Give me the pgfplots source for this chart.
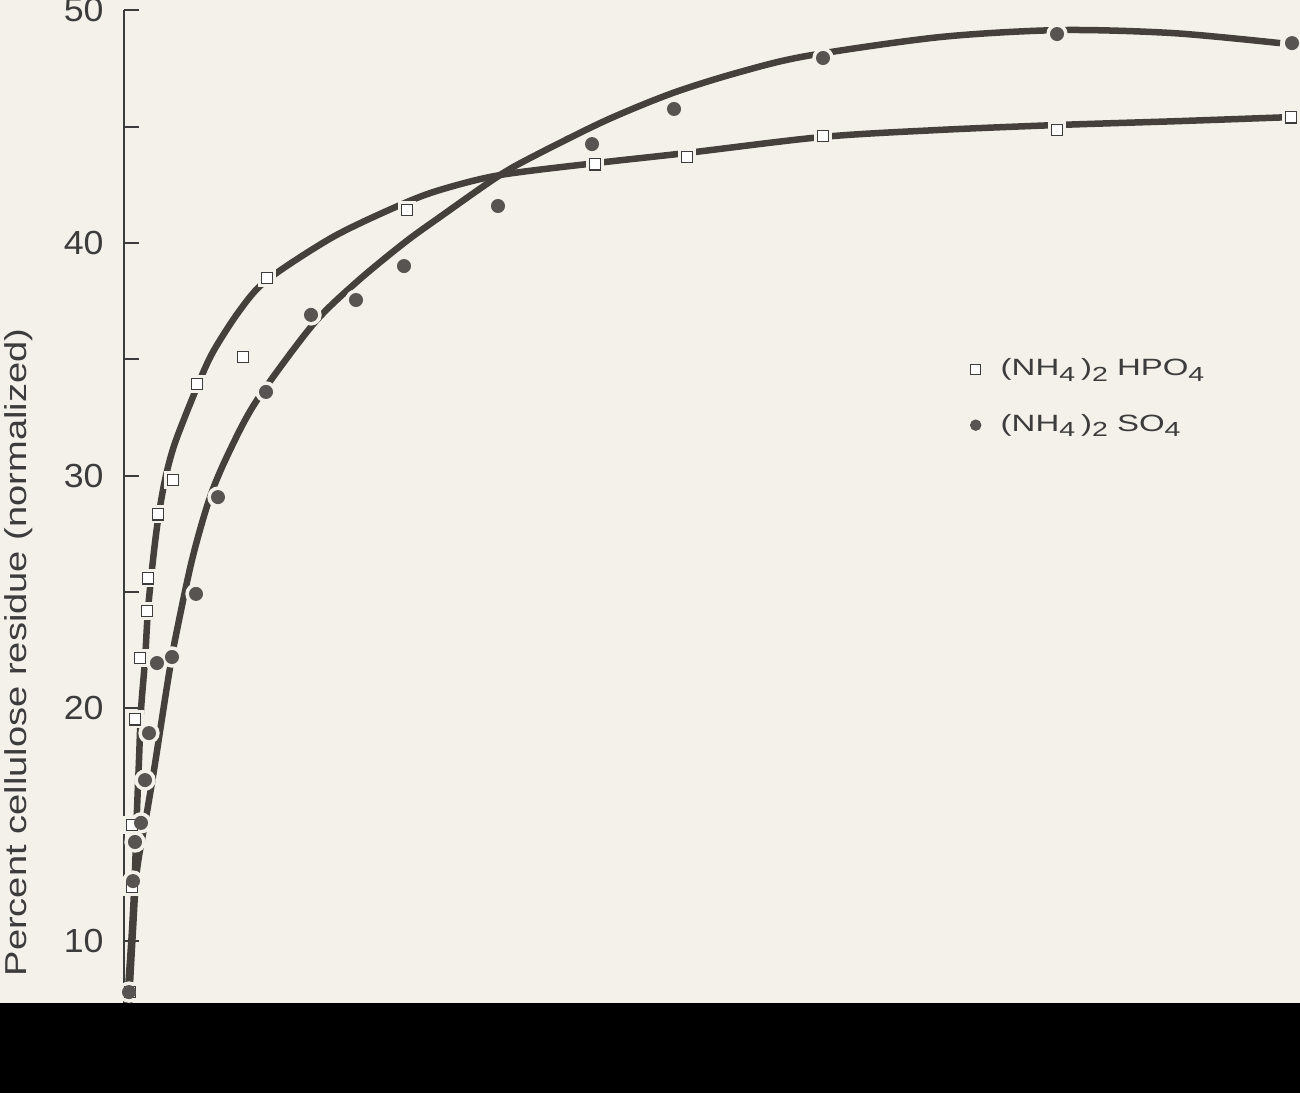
\documentclass[border=0pt]{standalone}
\usepackage{fontspec}
\setmainfont{Liberation Sans}
\newfontfamily\tickfont[FakeStretch=1.07]{Liberation Sans}
\newfontfamily\labfont[FakeStretch=1.26]{Liberation Sans}
\newfontfamily\legfont[FakeStretch=1.4]{Liberation Sans}
\usepackage{pgfplots}
\pgfplotsset{compat=1.18}
\definecolor{bg}{RGB}{243,241,234}
\definecolor{curve}{RGB}{70,64,60}
\definecolor{dotc}{RGB}{88,84,82}
\definecolor{txt}{RGB}{60,60,60}
\newcommand\sub[1]{\raisebox{-0.55mm}{\fontsize{5.8}{6}\selectfont #1}}
\begin{document}
\begin{tikzpicture}
\fill[bg] (0mm,0mm) rectangle (130mm,109.3mm);
\fill[black] (0mm,0mm) rectangle (130mm,9.0mm);
\begin{axis}[
  at={(12.4mm,9.0mm)}, anchor=south west,
  scale only axis, width=117.6mm, height=99.27mm,
  xmin=0, xmax=1176, ymin=7.34, ymax=50,
  hide x axis,
  axis y line*=left,
  y axis line style={line width=0.25mm, color=txt},
  ytick={10,20,30,40,50},
  minor ytick={15,25,35,45},
  tick align=inside,
  major tick length=1.5mm, minor tick length=1.5mm,
  every tick/.style={line width=0.2mm, color=txt},
  yticklabel style={font=\tickfont\fontsize{9.5}{11}\selectfont, text=txt, xshift=-0.8mm},
  /pgf/number format/assume math mode=true,
  ylabel={Percent cellulose residue (normalized)},
  ylabel style={font=\labfont\fontsize{8.6}{10}\selectfont, text=txt, inner sep=0pt, at={(axis description cs:-0.0825,0.0262)}, anchor=base west},
  clip=false,
  legend cell align=left,
  legend style={draw=none, fill=none, at={(axis cs:846,35.06)}, anchor=north west,
    inner sep=0pt, row sep=3.3mm, column sep=2mm,
    font=\legfont\fontsize{6.7}{8}\selectfont, text=txt,
    nodes={inner sep=0pt}, cells={anchor=west}},
]
% fitted curves
\addplot[curve, line width=0.65mm, smooth, forget plot] table {
x y
3 7.34
8 10.48
11 13.06
13 15.63
15 17.78
17 19.93
21 22.08
24 24.23
29 26.38
34 28.10
41 29.82
51 31.41
73 33.81
89 35.32
116 37.12
143 38.41
209 40.26
276 41.63
316 42.28
376 42.92
473 43.44
563 43.87
699 44.56
816 44.86
933 45.07
1056 45.24
1166 45.41
};
\addplot[curve, line width=0.65mm, smooth, forget plot] table {
x y
5 7.34
9 10.48
13 13.06
23 15.55
30 17.35
37 19.29
44 21.22
51 22.94
68 26.38
86 29.08
106 31.10
133 33.25
189 36.50
232 38.30
280 40.00
316 41.12
376 42.92
416 43.87
483 45.29
549 46.45
616 47.35
683 48.04
816 48.85
936 49.15
1049 49.02
1156 48.59
};
% halos
\addplot[only marks, mark=square*, mark size=0.85mm, color=bg, forget plot] table {
x y
6 7.81
8 12.33
8 14.99
11 19.54
16 22.17
23 24.19
24 25.60
34 28.35
49 29.82
73 33.94
119 35.10
143 38.50
283 41.42
471 43.39
563 43.70
699 44.60
933 44.86
1167 45.41
};
\addplot[only marks, mark=*, mark size=1.0mm, color=bg, forget plot] table {
x y
5 7.81
9 12.58
11 14.26
17 15.08
21 16.92
25 18.94
33 21.95
48 22.21
72 24.92
94 29.08
142 33.60
187 36.91
232 37.55
280 39.01
374 41.59
468 44.25
550 45.76
699 47.95
933 48.98
1168 48.59
};
% data
\addplot[only marks, mark=square*, mark size=0.58mm, mark options={fill=white, draw=txt, line width=0.12mm},
  legend image code/.code={\draw[mark=square*, mark size=0.5mm, fill=white, draw=txt, line width=0.12mm] plot coordinates {(0mm,0mm)};}] table {
x y
6 7.81
8 12.33
8 14.99
11 19.54
16 22.17
23 24.19
24 25.60
34 28.35
49 29.82
73 33.94
119 35.10
143 38.50
283 41.42
471 43.39
563 43.70
699 44.60
933 44.86
1167 45.41
};
\addlegendentry{(NH\sub{4}\hspace{0.6mm})\sub{2}\hspace{0.9mm}HPO\sub{4}}
\addplot[only marks, mark=*, mark size=0.63mm, mark options={fill=dotc, draw=dotc},
  legend image code/.code={\draw[mark=*, mark size=0.5mm, fill=dotc, draw=dotc] plot coordinates {(0mm,0mm)};}] table {
x y
5 7.81
9 12.58
11 14.26
17 15.08
21 16.92
25 18.94
33 21.95
48 22.21
72 24.92
94 29.08
142 33.60
187 36.91
232 37.55
280 39.01
374 41.59
468 44.25
550 45.76
699 47.95
933 48.98
1168 48.59
};
\addlegendentry{(NH\sub{4}\hspace{0.6mm})\sub{2}\hspace{0.9mm}SO\sub{4}}
\end{axis}
\pgfresetboundingbox
\path[use as bounding box] (0mm,0mm) rectangle (130mm,109.3mm);
\end{tikzpicture}
\end{document}
